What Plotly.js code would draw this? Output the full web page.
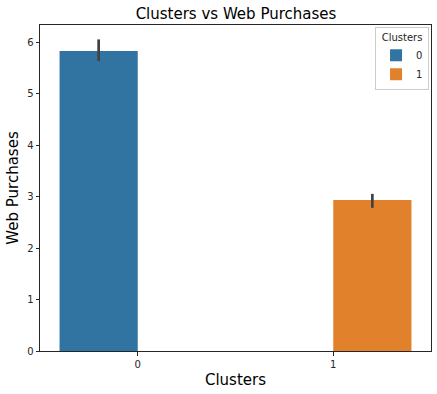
<!DOCTYPE html>
<html><head><meta charset="utf-8">
<script src="https://cdn.plot.ly/plotly-3.0.1.min.js"></script>
<style>html,body{margin:0;padding:0;background:#fff}</style>
</head><body>
<div id="chart" style="width:437px;height:394px"></div>
<script>
const categories = ['0', '1'];
const hueLabels = ['0', '1'];
const hue0Values = [5.825, null];
const hue1Values = [null, 2.93];
const hue0ErrUp = [0.225, null];
const hue0ErrDown = [0.195, null];
const hue1ErrUp = [null, 0.12];
const hue1ErrDown = [null, 0.15];
const colors = ['#3274a1', '#e1812c'];

const errStyle = {color: '#424242', thickness: 2.7, width: 0};
const traces = [
  {type: 'bar', name: hueLabels[0], x: categories, y: hue0Values, marker: {color: colors[0]},
   error_y: Object.assign({type: 'data', symmetric: false, array: hue0ErrUp, arrayminus: hue0ErrDown}, errStyle)},
  {type: 'bar', name: hueLabels[1], x: categories, y: hue1Values, marker: {color: colors[1]},
   error_y: Object.assign({type: 'data', symmetric: false, array: hue1ErrUp, arrayminus: hue1ErrDown}, errStyle)}
];
const axisCommon = {showline: true, mirror: true, linecolor: '#262626', linewidth: 1, ticks: 'outside', ticklen: 3.5, tickcolor: '#262626',
  tickfont: {family: 'DejaVu Sans', size: 10, color: '#262626'}, showgrid: false, zeroline: false};
const layout = {
  width: 437, height: 394,
  margin: {l: 40, r: 6, t: 25, b: 43},
  paper_bgcolor: '#fff', plot_bgcolor: '#fff',
  barmode: 'group', bargap: 0.2, bargroupgap: 0,
  title: {text: 'Clusters vs Web Purchases', font: {family: 'DejaVu Sans', size: 15, color: '#000'}, x: 0.54, xanchor: 'center', y: 0.9645, yanchor: 'middle'},
  xaxis: Object.assign({}, axisCommon, {type: 'category', range: [-0.5, 1.5],
    title: {text: 'Clusters', font: {family: 'DejaVu Sans', size: 15, color: '#000'}, standoff: 5}}),
  yaxis: Object.assign({}, axisCommon, {range: [0, 6.33], tickvals: [0,1,2,3,4,5,6],
    title: {text: 'Web Purchases', font: {family: 'DejaVu Sans', size: 15, color: '#000'}, standoff: 4}}),
  showlegend: true,
  legend: {x: 0.995, xanchor: 'right', y: 0.995, yanchor: 'top', bgcolor: 'rgba(255,255,255,0.8)', bordercolor: '#cccccc', borderwidth: 1,
    title: {text: 'Clusters', font: {family: 'DejaVu Sans', size: 10, color: '#262626'}, side: 'top center'},
    font: {family: 'DejaVu Sans', size: 10, color: '#262626'}, itemwidth: 30, tracegroupgap: 0}
};
Plotly.newPlot('chart', traces, layout, {displayModeBar: false, staticPlot: true});
</script>
</body></html>
